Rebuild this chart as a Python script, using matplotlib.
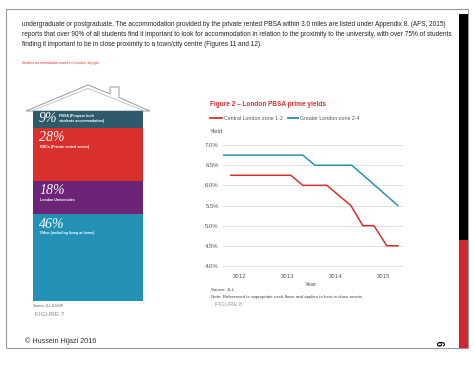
import matplotlib.pyplot as plt
from matplotlib.patches import Rectangle, Polygon
from matplotlib.lines import Line2D

W, H = 474, 366

# body text of the page
body_lines = [
    "undergraduate or postgraduate. The accommodation provided by the private rented PBSA within 3.0 miles are listed under Appendix 8. (AFS, 2015)",
    "reports that over 90% of all students find it important to look for accommodation in relation to the proximity to the university, with over 75% of students",
    "finding it important to be in close proximity to a town/city centre (Figures 11 and 12).",
]

# figure 7: student accommodation by type
house_pct = [9, 28, 18, 46]
house_names = ["PBSA (Purpose built\nstudents accommodation)", "RBCs (Private rented sector)",
               "London Universities", "Other (including living at home)"]
house_colors = ["#2d5b6c", "#d8302d", "#6b2476", "#2291b5"]

# figure 8: London PBSA prime yields
central_year = [2011.83, 2013.08, 2013.33, 2013.83, 2014.33, 2014.58, 2014.81, 2015.08, 2015.31]
central_yield = [6.25, 6.25, 6.0, 6.0, 5.5, 5.0, 5.0, 4.5, 4.5]
greater_year = [2011.65, 2013.33, 2013.58, 2014.35, 2015.31]
greater_yield = [6.75, 6.75, 6.5, 6.5, 5.5]
year_ticks = [2012, 2013, 2014, 2015]
yield_ticks = [4.0, 4.5, 5.0, 5.5, 6.0, 6.5, 7.0]


def fx(x):
    return x / W


def fy(y):
    return 1 - y / H


fig = plt.figure(figsize=(W / 100, H / 100), dpi=100)
plt.rcParams['font.family'] = ['Liberation Sans', 'DejaVu Sans']


def txt(x, y, s, **kw):
    fig.text(fx(x), fy(y), s, **kw)


def rect(x0, y0, x1, y1, **kw):
    fig.patches.append(Rectangle((fx(x0), fy(y1)), fx(x1) - fx(x0), fy(y0) - fy(y1),
                                 transform=fig.transFigure, figure=fig, **kw))


def seg(x0, y0, x1, y1, **kw):
    fig.lines.append(Line2D([fx(x0), fx(x1)], [fy(y0), fy(y1)],
                            transform=fig.transFigure, figure=fig, **kw))


# page frame and side bar
rect(6, 9, 468, 348, facecolor="none", edgecolor="#9a9a9a", lw=0.8)
rect(459, 14, 468, 240, facecolor="black", edgecolor="none")
rect(459, 240, 468, 348, facecolor="#d1262e", edgecolor="none")

for i, line in enumerate(body_lines):
    txt(22, 25 + i * 9.5, line, fontsize=4.7, color="#222222", va="center")

txt(25, 341, "\u00a9 Hussein Hijazi 2016", fontsize=5.2, color="#333333", va="center")
txt(443, 343, "9", fontsize=7, fontweight="bold", rotation=90, ha="center", va="center")

# ---- figure 7: the house ----
txt(22, 63, "Student accommodation market in London, by type", fontsize=2.4, color="#d8302d", va="center")

roof = [(26, 111), (88, 85), (110, 93.9), (110, 87), (119, 87), (119, 97.5), (150, 111)]
fig.patches.append(Polygon([(fx(x), fy(y)) for x, y in roof], closed=True, facecolor="white",
                           edgecolor="#9a9a9a", lw=0.7, transform=fig.transFigure, figure=fig))
seg(34, 110, 88, 88.5, color="#b0b0b0", lw=0.5)
seg(88, 88.5, 142, 110, color="#b0b0b0", lw=0.5)

top = 111.0
scale = 190.0 / sum(house_pct)
for pct, name, col in zip(house_pct, house_names, house_colors):
    h = pct * scale
    rect(33, top, 143, top + h, facecolor=col, edgecolor="none")
    if pct < 10:
        txt(39, top + 8, f"{pct}%", fontsize=10, color="white", family="Liberation Serif",
            style="italic", va="center")
        txt(59, top + 7.5, name, fontsize=2.6, color="white", fontweight="bold",
            va="center", linespacing=1.1)
    else:
        txt(39, top + 10, f"{pct}%", fontsize=10, color="white", family="Liberation Serif",
            style="italic", va="center")
        txt(40, top + 19, name, fontsize=2.6, color="white", fontweight="bold", va="center")
    top += h

txt(33, 306, "Source: JLL & NEW", fontsize=2.4, color="#555555", va="center")
txt(35, 315, "FIGURE 7", fontsize=4.6, color="#888888", va="center")

# ---- figure 8: line chart ----
txt(210, 104, "Figure 2 \u2013 London PBSA prime yields", fontsize=4.7, color="#d8302d",
    fontweight="bold", va="center")
seg(210, 118, 222, 118, color="#d8302d", lw=1.3)
txt(224, 118, "Central London zone 1-2", fontsize=3.8, color="#555555", va="center")
seg(288, 118, 298, 118, color="#2a8fb5", lw=1.3)
txt(300, 118, "Greater London zone 2-4", fontsize=3.8, color="#555555", va="center")
txt(210, 131, "Yield", fontsize=4.3, color="#555555", va="center")

ax = fig.add_axes([fx(223), fy(270), fx(403) - fx(223), fy(141) - fy(270)])
ax.plot(central_year, central_yield, color="#d8302d", lw=1.1)
ax.plot(greater_year, greater_yield, color="#2a8fb5", lw=1.1)
ax.set_xlim(2011.667, 2015.417)
ax.set_ylim(3.9, 7.1)
ax.set_xticks(year_ticks)
ax.set_xticklabels([str(y) for y in year_ticks])
ax.set_yticks(yield_ticks)
ax.set_yticklabels([f"{v:.1f}%" for v in yield_ticks])
ax.tick_params(length=0, labelsize=4.3, labelcolor="#555555", pad=3)
ax.grid(axis="y", color="#dddddd", lw=0.6)
ax.set_axisbelow(True)
for s in ax.spines.values():
    s.set_visible(False)
ax.set_facecolor("none")

txt(311, 284, "Year", fontsize=4.3, color="#555555", ha="center", va="center")
txt(211, 290, "Source: JLL", fontsize=3.2, color="#444444", va="center")
txt(211, 297, "Note: Referenced to appropriate cash-flows and applies to best in class assets",
    fontsize=3.2, color="#444444", va="center")
txt(215, 304, "FIGURE 8", fontsize=4.2, color="#999999", va="center")

fig.savefig("out.png", dpi=100)
